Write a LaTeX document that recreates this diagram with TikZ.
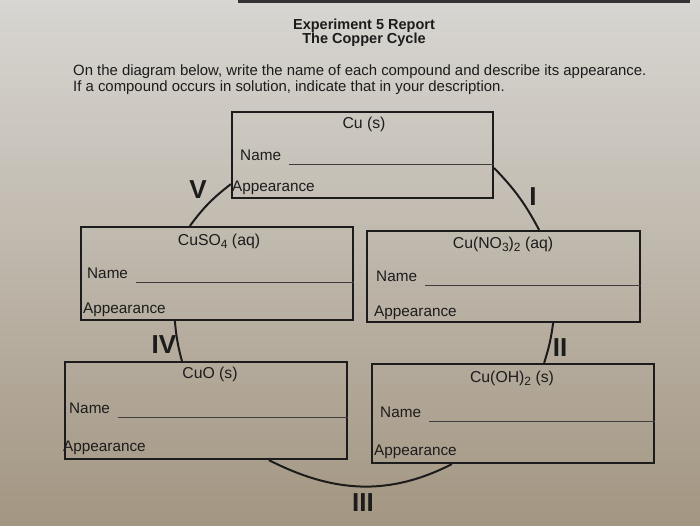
\documentclass[tikz,border=0pt]{standalone}
\usepackage{fontspec}
\setmainfont{Liberation Sans}
\definecolor{ink}{HTML}{1C1C1C}
\definecolor{papertop}{HTML}{D8D6D2}
\definecolor{paperbot}{HTML}{A39682}
\newcommand{\lowsub}[1]{\raisebox{-0.35ex}{\fontsize{12}{13}\selectfont #1}}
\begin{document}
\begin{tikzpicture}[x=1pt,y=-1pt,
  box/.style={draw=ink,line width=2.2pt,inner sep=0pt},
  lab/.style={text=ink,font=\fontsize{15.8}{17}\selectfont,inner sep=0pt},
  fieldlab/.style={text=ink,font=\fontsize{15.3}{17}\selectfont,inner sep=0pt,anchor=west},
  ansline/.style={draw=ink!85,line width=0.9pt},
  link/.style={draw=ink,line width=2pt},
  numlab/.style={text=ink,font=\fontsize{26}{28}\selectfont\bfseries,inner sep=0pt},
  title/.style={text=ink,font=\fontsize{14.5}{16}\selectfont\bfseries,inner sep=0pt},
  instr/.style={text=ink,font=\fontsize{14.9}{17}\selectfont,inner sep=0pt,anchor=west}
]
\useasboundingbox (0,0) rectangle (700,525);
\shade[top color=papertop,bottom color=paperbot] (0,0) rectangle (700,525);
\fill[ink!90] (238,0) rectangle (690,3);

% title and instructions
\node[title] (t1) at (364,26) {Experiment 5 Report};
\node[title] (t2) at (364,40) {The Copper Cycle};
\node[instr] (i1) at (73,72) {On the diagram below, write the name of each compound and describe its appearance.};
\node[instr] (i2) at (73,88) {If a compound occurs in solution, indicate that in your description.};

% boxes
\node[box,minimum width=261pt,minimum height=86pt] (cu) at (362.5,155) {};
\node[box,minimum width=272pt,minimum height=93pt] (cuso) at (217,273.5) {};
\node[box,minimum width=273pt,minimum height=91pt] (cuno) at (503.5,276.5) {};
\node[box,minimum width=282pt,minimum height=97pt] (cuo) at (206,410.5) {};
\node[box,minimum width=282pt,minimum height=99pt] (cuoh) at (513,413.5) {};

% Cu (s)
\node[lab] (cuT) at (364,124) {Cu (s)};
\node[fieldlab] (cuN) at (240,155) {Name};
\node[fieldlab] (cuA) at (232,188) {Appearance};
\coordinate (cuL) at ([xshift=8pt,yshift=-4pt]cuN.base east);
\draw[ansline] (cuL) -- (cuL -| cu.east);

% CuSO4
\node[lab] (cusoT) at (219,241) {CuSO\lowsub{4} (aq)};
\node[fieldlab] (cusoN) at (87,273) {Name};
\node[fieldlab] (cusoA) at (83,310) {Appearance};
\coordinate (cusoL) at ([xshift=8pt,yshift=-4pt]cusoN.base east);
\draw[ansline] (cusoL) -- (cusoL -| cuso.east);

% Cu(NO3)2
\node[lab] (cunoT) at (503,244) {Cu(NO\lowsub{3})\lowsub{2} (aq)};
\node[fieldlab] (cunoN) at (376,276) {Name};
\node[fieldlab] (cunoA) at (374,313) {Appearance};
\coordinate (cunoL) at ([xshift=8pt,yshift=-4pt]cunoN.base east);
\draw[ansline] (cunoL) -- (cunoL -| cuno.east);

% CuO
\node[lab] (cuoT) at (210,374) {CuO (s)};
\node[fieldlab] (cuoN) at (69,408) {Name};
\node[fieldlab] (cuoA) at (63,448) {Appearance};
\coordinate (cuoL) at ([xshift=8pt,yshift=-4pt]cuoN.base east);
\draw[ansline] (cuoL) -- (cuoL -| cuo.east);

% Cu(OH)2
\node[lab] (cuohT) at (512,378) {Cu(OH)\lowsub{2} (s)};
\node[fieldlab] (cuohN) at (380,412) {Name};
\node[fieldlab] (cuohA) at (374,452) {Appearance};
\coordinate (cuohL) at ([xshift=8pt,yshift=-4pt]cuohN.base east);
\draw[ansline] (cuohL) -- (cuohL -| cuoh.east);

% connectors (the cycle)
\draw[link] ([yshift=15pt]cu.south west) to[bend right=8] ([xshift=110pt]cuso.north west);
\draw[link] ([yshift=-13pt]cu.east) to[bend left=8] ([xshift=-102pt]cuno.north east);
\draw[link] ([xshift=-88pt]cuno.south east) to[bend left=5] ([xshift=-111pt]cuoh.north east);
\draw[link] ([xshift=81pt]cuoh.south west) to[out=207,in=-27] ([xshift=205pt]cuo.south west);
\draw[link] ([xshift=118pt]cuo.north west) to[bend left=5] ([xshift=95pt]cuso.south west);

% step numbers
\node[numlab] (nV) at (198,190) {V};
\node[numlab] (nI) at (533,197) {I};
\node[numlab] (nII) at (560,348) {II};
\node[numlab] (nIII) at (363,503) {III};
\node[numlab] (nIV) at (164,345) {IV};
\end{tikzpicture}
\end{document}
